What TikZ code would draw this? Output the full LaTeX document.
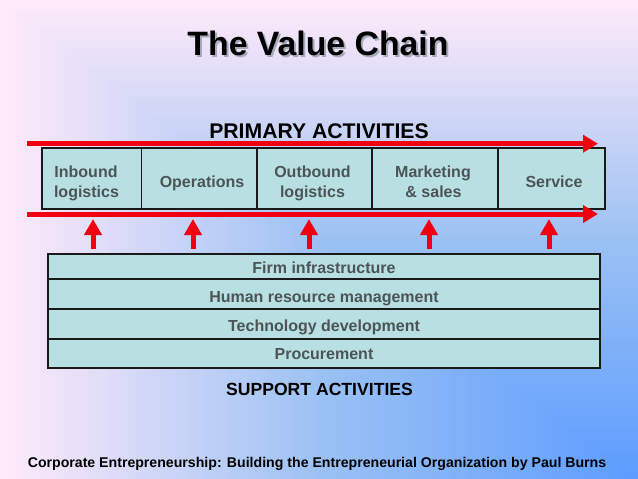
\documentclass[tikz,border=0pt]{standalone}
\usepackage{fontspec}
\setmainfont{Liberation Sans}
\usetikzlibrary{arrows.meta}
\definecolor{boxfill}{RGB}{184,224,226}
\definecolor{boxtext}{RGB}{76,84,86}
\definecolor{arrowred}{RGB}{240,0,16}
\definecolor{shadowgrey}{RGB}{165,170,185}
\definecolor{bgstart}{RGB}{255,234,250}
\definecolor{bgmid}{RGB}{155,193,243}
\definecolor{bgend}{RGB}{92,156,255}
\tikzset{
  x=1pt,y=-1pt,
  cellbox/.style={draw=black!90,line width=1.2pt,fill=boxfill,inner sep=0pt,outer sep=0pt},
  celltext/.style={text=boxtext,inner sep=0pt,align=center,text height=11.5pt,text depth=3.4pt,
    font=\fontsize{16}{19.5}\selectfont\bfseries},
  headtext/.style={inner sep=0pt,text=black},
  longarrow/.style={draw=arrowred,line width=5pt,-{Triangle[length=15pt,width=17pt]}},
  uparrow/.style={draw=arrowred,line width=5pt,-{Triangle[length=16pt,width=17pt]}},
}
\begin{document}
\begin{tikzpicture}
\useasboundingbox (0,0) rectangle (638,479);
% background: colour follows min(x/W,y/H)
\foreach \i in {0,...,159}{
  \pgfmathsetmacro{\t}{\i/160}
  \pgfmathsetmacro{\mixa}{min(100,200*\t)}
  \pgfmathsetmacro{\mixb}{max(0,200*\t-100)}
  \fill[bgend!\mixb!bgmid!\mixa!bgstart] ({638*\t},{479*\t}) rectangle (638,479);
}
% title
\node[font=\fontsize{33.8}{36}\selectfont\bfseries,text=shadowgrey,inner sep=0pt] (titleshadow) at (320,45.5) {The Value Chain};
\node[font=\fontsize{33.8}{36}\selectfont\bfseries,text=black,inner sep=0pt] (title) at (318,43.5) {The Value Chain};
\node[headtext,font=\fontsize{21.2}{23}\selectfont\bfseries] (primary) at (319,131) {PRIMARY ACTIVITIES};
% primary cells
\node[cellbox,minimum width=99.5pt,minimum height=61pt] (inb) at (91.75,178.5) {};
\node[cellbox,minimum width=115.5pt,minimum height=61pt] (ops) at (199.25,178.5) {};
\node[cellbox,minimum width=115pt,minimum height=61pt] (out) at (314.5,178.5) {};
\node[cellbox,minimum width=126pt,minimum height=61pt] (mkt) at (435,178.5) {};
\node[cellbox,minimum width=107pt,minimum height=61pt] (srv) at (551.5,178.5) {};
\node[celltext] (inbA) at (86,173.5) {Inbound};
\node[celltext] (inbB) at (86.5,193) {logistics};
\node[celltext] (opsT) at (202,183) {Operations};
\node[celltext] (outA) at (312.5,173.5) {Outbound};
\node[celltext] (outB) at (312.5,193) {logistics};
\node[celltext] (mktA) at (433,173.5) {Marketing};
\node[celltext] (mktB) at (433.5,193) {\& sales};
\node[celltext] (srvT) at (554,183) {Service};
% long arrows
\coordinate (t0) at (27,143.7);
\coordinate (t1) at (598,143.7);
\coordinate (b0) at (27,214);
\coordinate (b1) at (598,214);
\draw[longarrow] (t0) -- (t1);
\draw[longarrow] (b0) -- (b1);
% support rows
\node[cellbox,minimum width=552pt,minimum height=25pt] (firm) at (324,266.5) {};
\node[cellbox,minimum width=552pt,minimum height=30pt] (hr) at (324,294) {};
\node[cellbox,minimum width=552pt,minimum height=30pt] (tech) at (324,324) {};
\node[cellbox,minimum width=552pt,minimum height=29pt] (proc) at (324,353.5) {};
\node[celltext] (firmT) at (324,269) {Firm infrastructure};
\node[celltext] (hrT) at (324,298) {Human resource management};
\node[celltext] (techT) at (324,327.5) {Technology development};
\node[celltext] (procT) at (324,355.5) {Procurement};
% up arrows
\foreach \n/\x in {a/93,b/193,c/309,d/429,e/549}{
  \coordinate (u\n0) at (\x,249);
  \coordinate (u\n1) at (\x,219);
  \draw[uparrow] (u\n0) -- (u\n1);
}
\node[headtext,font=\fontsize{17.6}{20}\selectfont\bfseries] (support) at (319.5,389) {SUPPORT ACTIVITIES};
\node[headtext,font=\fontsize{14.13}{16}\selectfont\bfseries] (credit) at (317,463.5) {Corporate Entrepreneurship: Building the Entrepreneurial Organization by Paul Burns};
\end{tikzpicture}
\end{document}
